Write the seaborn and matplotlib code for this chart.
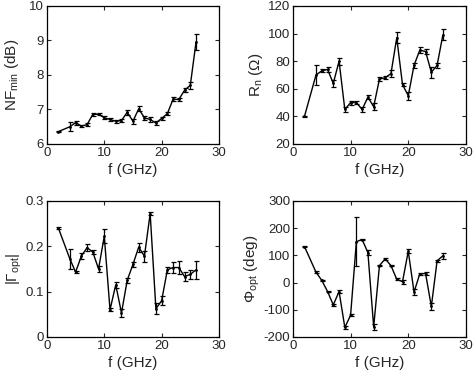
import numpy as np
import pandas as pd
import matplotlib
matplotlib.use("Agg")
import matplotlib.pyplot as plt
import seaborn as sns

# frequency points (GHz)
freq = [2, 4, 5, 6, 7, 8, 9, 10, 11, 12, 13, 14, 15, 16, 17, 18, 19, 20, 21, 22, 23, 24, 25, 26]

# minimum noise figure (dB) and error
nf_min = [6.36, 6.50, 6.62, 6.52, 6.56, 6.86, 6.86, 6.76, 6.71, 6.66, 6.68, 6.92, 6.66, 7.02,
          6.76, 6.71, 6.61, 6.74, 6.88, 7.30, 7.29, 7.56, 7.70, 8.96]
nf_err = [0.02, 0.13, 0.06, 0.04, 0.04, 0.04, 0.03, 0.04, 0.03, 0.04, 0.04, 0.07, 0.07, 0.07,
          0.06, 0.06, 0.06, 0.05, 0.05, 0.06, 0.04, 0.06, 0.10, 0.24]

# noise resistance (ohm)
rn = [40, 70, 73, 74, 64, 80, 45, 50, 50, 45, 54, 47, 67, 68, 71, 97, 63, 55, 77, 88, 87, 72, 77, 99]
rn_err = [0.5, 7, 1, 1.5, 2.5, 2.5, 2, 1.5, 1, 1.5, 1.5, 2.5, 1.5, 1, 2.5, 4, 1, 3, 2, 2, 1.5, 4, 2, 4]

# magnitude of optimum reflection coefficient
gamma_opt = [0.240, 0.172, 0.143, 0.178, 0.197, 0.187, 0.150, 0.222, 0.060, 0.115, 0.053, 0.125,
             0.160, 0.198, 0.178, 0.272, 0.062, 0.080, 0.148, 0.153, 0.153, 0.133, 0.138, 0.148]
gamma_err = [0.002, 0.022, 0.003, 0.006, 0.007, 0.004, 0.007, 0.016, 0.003, 0.006, 0.008, 0.006,
             0.006, 0.010, 0.012, 0.003, 0.012, 0.010, 0.006, 0.012, 0.015, 0.010, 0.010, 0.020]

# phase of optimum reflection coefficient (deg)
phi_opt = [132, 38, 8, -33, -82, -33, -165, -120, 150, 158, 110, -163, 62, 87, 62, 12, 3, 115,
           -35, 32, 33, -88, 80, 98]
phi_err = [3, 3, 3, 3, 4, 4, 7, 3, 90, 3, 10, 10, 3, 3, 3, 3, 7, 7, 10, 3, 7, 12, 4, 12]

# tick values and labels
x_ticks = [0, 10, 20, 30]
nf_ticks = [6, 7, 8, 9, 10]
rn_ticks = [20, 40, 60, 80, 100, 120]
gamma_ticks = [0, 0.1, 0.2, 0.3]
gamma_ticklabels = ["0", "0.1", "0.2", "0.3"]
phi_ticks = [-200, -100, 0, 100, 200, 300]

panels = [
    (nf_min, nf_err, r"NF$_{\rm min}$ (dB)", (6, 10), nf_ticks, None, 6),
    (rn, rn_err, r"R$_{\rm n}$ ($\Omega$)", (20, 120), rn_ticks, None, 2),
    (gamma_opt, gamma_err, r"|$\Gamma_{\rm opt}$|", (0, 0.3), gamma_ticks, gamma_ticklabels, 1),
    (phi_opt, phi_err, r"$\Phi_{\rm opt}$ (deg)", (-200, 300), phi_ticks, None, 1),
]

sns.set_style("ticks")
plt.rcParams["font.family"] = ["Liberation Sans", "DejaVu Sans"]
plt.rcParams["mathtext.fontset"] = "custom"
plt.rcParams["mathtext.rm"] = "Liberation Sans"
plt.rcParams["mathtext.it"] = "Liberation Sans"
plt.rcParams["axes.unicode_minus"] = False

fig = plt.figure(figsize=(4.74, 3.74), dpi=100)
fig.patch.set_facecolor("white")

positions = [
    [0.099, 0.615, 0.363, 0.369],
    [0.618, 0.615, 0.365, 0.369],
    [0.099, 0.099, 0.363, 0.364],
    [0.618, 0.099, 0.365, 0.364],
]

for (vals, errs, ylab, ylim, yticks, yticklabels, pad), pos in zip(panels, positions):
    ax = fig.add_axes(pos)
    df = pd.DataFrame({"f": freq, "v": vals})
    sns.lineplot(data=df, x="f", y="v", ax=ax, color="black", linewidth=1.0,
                 marker="o", markersize=2, markeredgewidth=0)
    ax.errorbar(freq, vals, yerr=errs, fmt="none", ecolor="black", elinewidth=0.9,
                capsize=1.8, capthick=0.9)
    ax.set_xlim(0, 30)
    ax.set_ylim(*ylim)
    ax.set_xticks(x_ticks)
    ax.set_yticks(yticks)
    if yticklabels is not None:
        ax.set_yticklabels(yticklabels)
    ax.set_xlabel("f (GHz)", fontsize=11, labelpad=3)
    ax.set_ylabel(ylab, fontsize=11, labelpad=pad)
    ax.tick_params(direction="in", top=True, right=True, labelsize=9.5, length=3,
                   width=0.8, pad=2)
    for s in ax.spines.values():
        s.set_linewidth(0.9)
        s.set_color("black")

fig.savefig("out.png", dpi=100, facecolor="white")
